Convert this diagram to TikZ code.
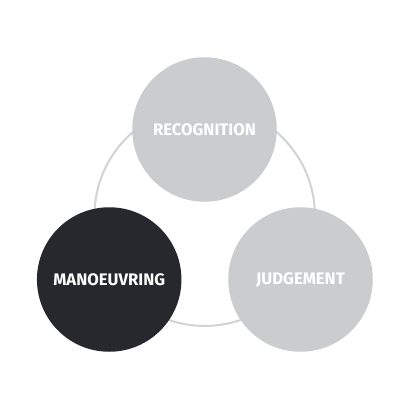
\documentclass[tikz,border=0pt]{standalone}
\usepackage{fontspec}
\setmainfont{Fira Sans}
\definecolor{lightc}{HTML}{CBCCCE}
\definecolor{darkc}{HTML}{27282E}
\definecolor{ringc}{HTML}{D2D3D4}
\begin{document}
\begin{tikzpicture}[x=1pt,y=-1pt,
  stage/.style={circle,minimum size=144.5pt,inner sep=0pt,text=white,font=\fontsize{16.7}{19}\selectfont\bfseries},
  light/.style={stage,fill=lightc},
  dark/.style={stage,fill=darkc}]
\useasboundingbox (0,0) rectangle (410,410);
\fill[white] (0,0) rectangle (410,410);
\node[draw=ringc,line width=2pt,circle,minimum size=220.5pt,inner sep=0pt] (ring) at (204.7,215.7) {};
\node[light] (rec) at (204.5,129.5) {RECOGNITION};
\node[dark] (man) at (109.2,279.5) {MANOEUVRING};
\node[light] (jud) at (300.5,279.5) {JUDGEMENT};
\end{tikzpicture}
\end{document}
